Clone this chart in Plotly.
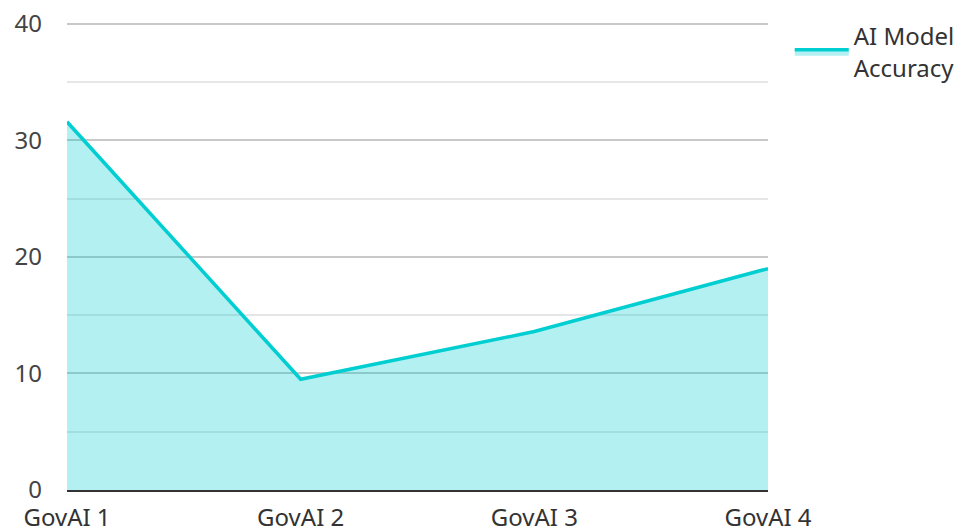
import plotly.graph_objects as go

categories = ["GovAI 1", "GovAI 2", "GovAI 3", "GovAI 4"]
accuracy = [31.6, 9.5, 13.6, 19.0]
series_name = "AI Model<br>Accuracy"

fig = go.Figure()
fig.add_trace(go.Scatter(
    x=categories, y=accuracy, name=series_name, mode="lines",
    line=dict(color="#00CED1", width=3.5),
    fill="tozeroy", fillcolor="rgba(0,206,209,0.3)",
))

fig.update_layout(
    width=958, height=531,
    margin=dict(l=67, r=190, t=21, b=41, autoexpand=False),
    paper_bgcolor="white", plot_bgcolor="white",
    font=dict(family="Noto Sans", size=24, color="#444"),
    showlegend=True,
    legend=dict(x=1.031, y=1.015, xanchor="left", yanchor="top", itemwidth=54,
                font=dict(size=24, color="#333"), tracegroupgap=0),
    xaxis=dict(range=[0, 3], showgrid=False, showline=True, linecolor="#333",
               linewidth=2, ticks="", zeroline=False, automargin=False,
               tickfont=dict(size=24, color="#333"), ticklabelstandoff=5),
    yaxis=dict(range=[0, 40.25], tickvals=[0, 10, 20, 30, 40], showgrid=True,
               gridcolor="#c8c8c8", automargin=False,
               gridwidth=1.5, zeroline=False, showline=False, ticks="",
               tickfont=dict(size=24, color="#444"), ticklabelstandoff=24,
               minor=dict(tickvals=[5, 15, 25, 35], showgrid=True,
                          gridcolor="#e6e6e6", gridwidth=1.5)),
)

fig.write_html("out.html", config={"displayModeBar": False},
               post_script="document.body.style.margin='0';")
